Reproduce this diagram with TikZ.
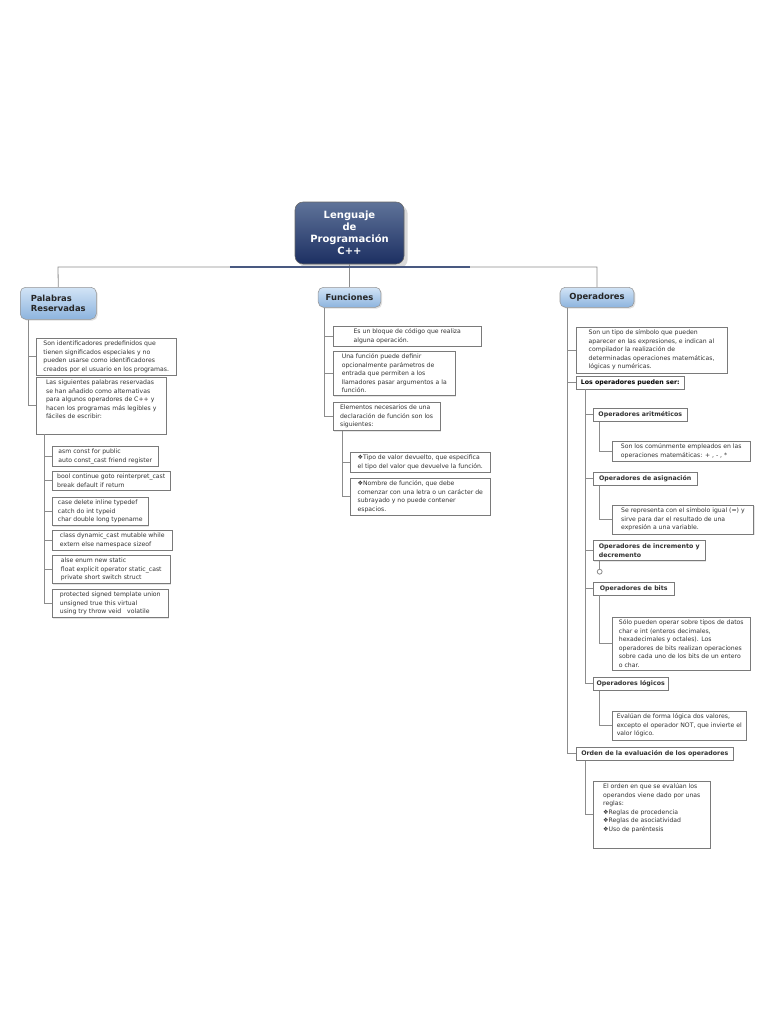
\documentclass[tikz,border=0pt]{standalone}
\usepackage{fontspec}
\setmainfont{DejaVu Sans}
\usetikzlibrary{shadows}
\definecolor{lnc}{HTML}{8C8C8C}
\definecolor{bxc}{HTML}{7A7A7A}
\definecolor{txc}{HTML}{333333}
\definecolor{bltop}{HTML}{D2E4F6}
\definecolor{blbot}{HTML}{8DB4DE}
\definecolor{rttop}{HTML}{5F7399}
\definecolor{rtbot}{HTML}{1C2F62}
\tikzset{
 tb/.style={draw=bxc,fill=white,anchor=north west,align=left,inner sep=2pt,
  font=\fontsize{4.6}{6.4}\selectfont,text=txc,minimum width=#1,
  drop shadow={opacity=0.2,shadow xshift=0.8pt,shadow yshift=-0.8pt}},
 hb/.style={tb=#1,font=\fontsize{4.7}{6.6}\selectfont\bfseries,inner sep=2.5pt},
 bl/.style={draw=bxc!80,rounded corners=4pt,top color=bltop,bottom color=blbot,
  font=\fontsize{6.3}{7.6}\selectfont\bfseries,text=black!85,anchor=north west,align=left,inner sep=3pt,
  drop shadow={opacity=0.25,shadow xshift=1pt,shadow yshift=-1pt}},
 ln/.style={draw=lnc,line width=0.6pt}
}
\begin{document}
\begin{tikzpicture}[x=0.75pt,y=-0.75pt]
\useasboundingbox (0,0) rectangle (768,1024);
\node[draw=black!60,rounded corners=6pt,top color=rttop,bottom color=rtbot,text=white,
 font=\fontsize{7.5}{9}\selectfont\bfseries,align=center,minimum width=81.75pt,minimum height=46.5pt,
 drop shadow={opacity=0.3}] (root) at (349.5,233) {Lenguaje\\de\\Programación\\C++};
\node[bl,minimum width=57pt,minimum height=24pt] (pal) at (20,287) {Palabras\\Reservadas};
\node[bl,minimum width=47pt,minimum height=15pt,align=center,anchor=north] (fun) at (349.5,287) {Funciones};
\node[bl,minimum width=55.5pt,minimum height=15pt,align=center,anchor=north] (ope) at (597,287) {Operadores};
\draw[ln] (root.south) -- (fun.north);
\draw[ln] (pal.north) -- (58,267) -- (597,267) -- (ope.north);
\draw[draw=rtbot!80,line width=1pt] (230,267) -- (470,267);

% left
\node[tb=105pt] (b1) at (36,338) {Son identificadores predefinidos que\\tienen significados especiales y no\\pueden usarse como identificadores\\creados por el usuario en los programas.};
\node[tb=97.5pt] (b2) at (36,377) {Las siguientes palabras reservadas\\se han añadido como alternativas\\para algunos operadores de C++ y\\hacen los programas más legibles y\\fáciles de escribir:\\[3pt]};
\node[tb=79.5pt] (k1) at (52,446) {asm const for public\\auto const\_cast friend register};
\node[tb=88.5pt] (k2) at (52,471) {bool continue goto reinterpret\_cast\\break default if return};
\node[tb=72pt] (k3) at (52,497) {case delete inline typedef\\catch do int typeid\\char double long typename};
\node[tb=90pt] (k4) at (52,530) {class dynamic\_cast mutable while\\extern else namespace sizeof};
\node[tb=88.5pt] (k5) at (52,555) {alse enum new static\\float explicit operator static\_cast\\private short switch struct};
\node[tb=87pt] (k6) at (52,589) {protected signed template union\\unsigned true this virtual\\using try throw veid \ \ volatile};
\draw[ln] ([xshift=6pt]pal.south west) |- (b1.west);
\draw[ln] ([xshift=6pt]pal.south west) |- (b2.west);
\foreach \k in {k1,k2,k3,k4,k5,k6}{\draw[ln] ([xshift=6.5pt]b2.south west) |- (\k.west);}

% middle
\node[tb=111pt] (m1) at (333,326) {Es un bloque de código que realiza\\alguna operación.};
\node[tb=91.5pt] (m2) at (333,351) {Una función puede definir\\opcionalmente parámetros de\\entrada que permiten a los\\llamadores pasar argumentos a la\\función.};
\node[tb=80pt] (m3) at (333,402) {Elementos necesarios de una\\declaración de función son los\\siguientes:};
\node[tb=105pt] (f1) at (350,452) {❖Tipo de valor devuelto, que especifica\\el tipo del valor que devuelve la función.};
\node[tb=105pt] (f2) at (350,478) {❖Nombre de función, que debe\\comenzar con una letra o un carácter de\\subrayado y no puede contener\\espacios.};
\foreach \k in {m1,m2,m3}{\draw[ln] ([xshift=5pt]fun.south west) |- (\k.west);}
\foreach \k in {f1,f2}{\draw[ln] ([xshift=7pt]m3.south west) |- (\k.west);}

% right
\node[tb=113pt] (r1) at (576,327) {Son un tipo de símbolo que pueden\\aparecer en las expresiones, e indican al\\compilador la realización de\\determinadas operaciones matemáticas,\\lógicas y numéricas.};
\node[hb=81pt,text=black] (r2) at (576,376) {Los operadores pueden ser:};
\node[hb=70.5pt] (a1) at (593,408) {Operadores aritméticos};
\node[tb=103.5pt] (ad) at (612,441) {Son los comúnmente empleados en las\\operaciones matemáticas: + , - , *};
\node[hb=78pt] (s1) at (593,472) {Operadores de asignación};
\node[tb=106pt] (sd) at (612,505) {Se representa con el símbolo igual (=) y\\sirve para dar el resultado de una\\expresión a una variable.};
\node[hb=84pt] (i1) at (593,540) {Operadores de incremento y\\decremento};
\node[hb=60.75pt] (bt) at (593,582) {Operadores de bits};
\node[tb=103.5pt] (bd) at (612,617) {Sólo pueden operar sobre tipos de datos\\char e int (enteros decimales,\\hexadecimales y octales). Los\\operadores de bits realizan operaciones\\sobre cada uno de los bits de un entero\\o char.};
\node[hb=56pt] (l1) at (593,677) {Operadores lógicos};
\node[tb=100.5pt] (ld) at (612,711) {Evalúan de forma lógica dos valores,\\excepto el operador NOT, que invierte el\\valor lógico.};
\node[hb=117.75pt,text=black!80] (o1) at (576,747) {Orden de la evaluación de los operadores};
\node[tb=87.75pt] (od) at (593,781) {El orden en que se evalúan los\\operandos viene dado por unas\\reglas:\\❖Reglas de procedencia\\❖Reglas de asociatividad\\❖Uso de paréntesis\\[4pt]};
\foreach \k in {r1,r2,o1}{\draw[ln] ([xshift=6pt]ope.south west) |- (\k.west);}
\foreach \k in {a1,s1,i1,bt,l1}{\draw[ln] ([xshift=7pt]r2.south west) |- (\k.west);}
\draw[ln] ([xshift=5pt]a1.south west) |- (ad.west);
\draw[ln] ([xshift=5pt]s1.south west) |- (sd.west);
\draw[ln] ([xshift=5pt]bt.south west) |- (bd.west);
\draw[ln] ([xshift=5pt]l1.south west) |- (ld.west);
\draw[ln] ([xshift=7pt]o1.south west) |- (od.west);
\draw[ln] ([xshift=5pt]i1.south west) -- ++(0,8) node[circle,draw=lnc,fill=white,inner sep=1.3pt,anchor=north]{};
\end{tikzpicture}
\end{document}
